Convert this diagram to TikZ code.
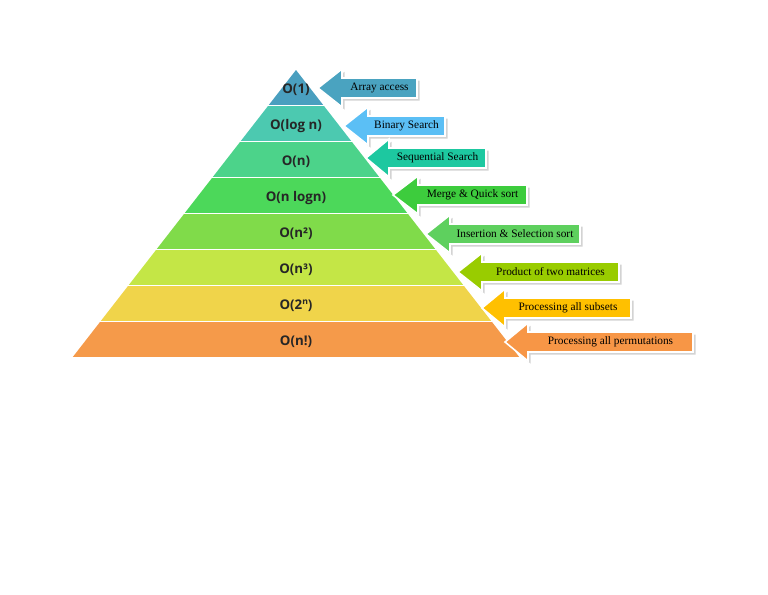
\documentclass[tikz,border=0pt]{standalone}
\usepackage{fontspec}
\setmainfont{Liberation Serif}
\newfontfamily\pyrfont{Open Sans}
\usetikzlibrary{shadows}
\definecolor{L1}{HTML}{4A9FBF}\definecolor{L2}{HTML}{4CC9B0}\definecolor{L3}{HTML}{4CD38A}\definecolor{L4}{HTML}{4CD85A}
\definecolor{L5}{HTML}{80DB4A}\definecolor{L6}{HTML}{C4E646}\definecolor{L7}{HTML}{F0D44A}\definecolor{L8}{HTML}{F59A4A}
\definecolor{A1}{HTML}{4AA3C0}\definecolor{A2}{HTML}{5BBFF5}\definecolor{A3}{HTML}{1DC8A0}\definecolor{A4}{HTML}{3DCC3D}
\definecolor{A5}{HTML}{5ED05E}\definecolor{A6}{HTML}{99CC00}\definecolor{A7}{HTML}{FFC000}\definecolor{A8}{HTML}{F79646}
\tikzset{layertext/.style={font=\pyrfont\bfseries\fontsize{10}{12}\selectfont, text=black!85},
arrowtext/.style={font=\fontsize{8.5}{10}\selectfont, text=black},
blockarrow/.style={draw=white, line width=1.2pt, drop shadow={shadow xshift=2pt, shadow yshift=-2pt, opacity=0.35}}}
\begin{document}
\begin{tikzpicture}[x=0.75pt,y=-0.75pt]
\useasboundingbox (0,0) rectangle (768,594);
% pyramid layers
\foreach \i/\c/\t in {1/L1/O(1),2/L2/O(log n),3/L3/O(n),4/L4/O(n logn),5/L5/O(n²),6/L6/O(n³),7/L7/O(2ⁿ),8/L8/O(n!)}{
  \pgfmathsetmacro{\yt}{70+36*(\i-1)}
  \pgfmathsetmacro{\yb}{70+36*\i}
  \pgfmathsetmacro{\dt}{0.77778*36*(\i-1)}
  \pgfmathsetmacro{\db}{0.77778*36*\i}
  \fill[\c] (296-\dt,\yt) -- (296+\dt,\yt) -- (296+\db,\yb) -- (296-\db,\yb) -- cycle;
  \draw[white, line width=1.5pt] (296-\db,\yb) -- (296+\db,\yb);
  \node[layertext] (lay\i) at (296,{\yt+20}) {\t};
}
% arrows: tip x, y, head end, right end
\foreach \i/\tx/\y/\hx/\rx/\c/\t in {
 1/318/88/342/417/A1/Array access,
 2/344/126/368/445/A2/Binary Search,
 3/366/158/389/486/A3/Sequential Search,
 4/393/195/418/527/A4/Merge \& Quick sort,
 5/426/234/450/580/A5/Insertion \& Selection sort,
 6/458/272/482/619/A6/Product of two matrices,
 7/482/308/505/631/A7/Processing all subsets,
 8/505/342/528/693/A8/Processing all permutations}{
  \path[blockarrow, fill=\c] (\tx,\y) -- (\hx,\y-19) -- (\hx,\y-10) -- (\rx,\y-10) -- (\rx,\y+10) -- (\hx,\y+10) -- (\hx,\y+19) -- cycle;
  \node[arrowtext] (arr\i) at ({(\hx+\rx)/2},\y) {\t};
}
\end{tikzpicture}
\end{document}
